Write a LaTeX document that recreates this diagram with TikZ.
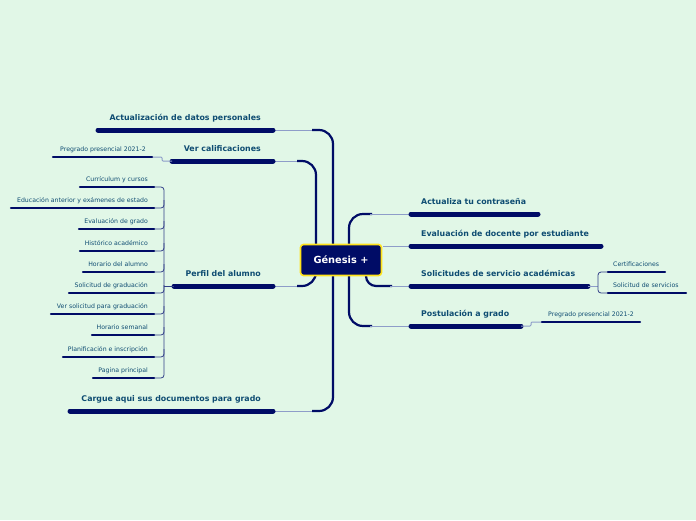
\documentclass[tikz,border=0pt]{standalone}
\usepackage{fontspec}
\setmainfont{DejaVu Sans}
\definecolor{navy}{HTML}{000C66}
\definecolor{paper}{HTML}{E1F7E7}
\definecolor{ink}{HTML}{0E4C72}
\definecolor{linkcol}{HTML}{8E9DC9}
\definecolor{gold}{HTML}{FFE21A}
\begin{document}
\begin{tikzpicture}[x=1pt,y=-1pt]
        \tikzstyle{root}=[fill=navy,draw=gold,line width=1.6pt,rounded corners=3pt,minimum width=81pt,minimum height=31pt,text=white,font=\fontsize{9.8}{11}\selectfont\bfseries]
        \tikzstyle{topic}=[inner sep=0pt,text=ink,font=\fontsize{7.85}{9}\selectfont\bfseries]
        \tikzstyle{subtopic}=[inner sep=0pt,text=ink,font=\fontsize{6.2}{7}\selectfont]
        \tikzstyle{bar}=[draw=navy,line width=5pt,line cap=round]
        \tikzstyle{subbar}=[draw=navy,line width=2.4pt,line cap=round]
        \tikzstyle{trunk}=[draw=navy,line width=2.2pt,rounded corners=14pt]
        \tikzstyle{link}=[draw=linkcol,line width=1pt]
        \tikzstyle{twig}=[draw=navy!65!linkcol,line width=0.8pt,rounded corners=3pt]
        \fill[paper] (0,0) rectangle (696,520);
        % left main topics
        \begin{scope}
         \coordinate (datosR) at (273,130);
         \coordinate (notasR) at (273,161);
         \coordinate (perfilR) at (273,286);
         \coordinate (cargueR) at (273,411);
         \draw[link] (datosR) -- (313,130);
         \draw[trunk] (312,130) -| (333,262);
         \draw[link] (notasR) -- (298,161);
         \draw[trunk] (297,161) -| (316,256);
         \draw[link] (perfilR) -- (298,286);
         \draw[trunk] (297,286) -| (316,268);
         \draw[link] (cargueR) -- (313,411);
         \draw[trunk] (312,411) -| (333,262);
         \draw[bar] (98,130) -- (datosR);
         \draw[bar] (172,161) -- (notasR);
         \draw[bar] (174,286) -- (perfilR);
         \draw[bar] (70,411) -- (cargueR);
         \node[topic,anchor=base east] (datos) at (261,120) {Actualización de datos personales};
         \node[topic,anchor=base east] (notas) at (261,151) {Ver calificaciones};
         \node[topic,anchor=base east] (perfil) at (261,276) {Perfil del alumno};
         \node[topic,anchor=base east] (cargue) at (261,401) {Cargue aqui sus documentos para grado};
        \end{scope}
        % right main topics
        \begin{scope}
         \coordinate (claveL) at (411,214);
         \coordinate (docenteL) at (411,246);
         \coordinate (solicL) at (411,286);
         \coordinate (postL) at (411,326);
         \draw[trunk] (349,258) |- (372,214);
         \draw[link] (370,214) -- (claveL);
         \draw[link] (383,246) -- (docenteL);
         \draw[trunk,rounded corners=10pt] (366,268) |- (392,286);
         \draw[link] (390,286) -- (solicL);
         \draw[trunk] (349,262) |- (372,326);
         \draw[link] (370,326) -- (postL);
         \draw[bar] (claveL) -- (538,214);
         \draw[bar] (docenteL) -- (601,246);
         \draw[bar] (solicL) -- (588,286);
         \draw[bar] (postL) -- (521,326);
         \node[topic,anchor=base west] (clave) at (421,204) {Actualiza tu contraseña};
         \node[topic,anchor=base west] (docente) at (421,236) {Evaluación de docente por estudiante};
         \node[topic,anchor=base west] (solic) at (421,276) {Solicitudes de servicio académicas};
         \node[topic,anchor=base west] (post) at (421,316) {Postulación a grado};
        \end{scope}
        \node[root] (root) at (341,260) {Génesis +};
        % sub topics, right
        \begin{scope}
         \draw[link] (588,286) -- (598,286);
         \draw[twig] (608,272) -- (598,272) -- (598,293) -- (608,293);
         \draw[subbar] (608,272) -- (665,272);
         \draw[subbar] (608,293) -- (686,293);
         \node[subtopic,anchor=base west] (cert) at (613,266.5) {Certificaciones};
         \node[subtopic,anchor=base west] (servicios) at (613,287.5) {Solicitud de servicios};
         \draw[link,rounded corners=1pt] (521,326) -- (531,326) -- (531,322) -- (542,322);
         \draw[subbar] (542,322) -- (640,322);
         \node[subtopic,anchor=base west] (pregradoA) at (548,316.5) {Pregrado presencial 2021-2};
        \end{scope}
        % sub topics, left
        \begin{scope}
         \draw[link,rounded corners=1pt] (172,161) -- (162,161) -- (162,157) -- (152,157);
         \draw[subbar] (53,157) -- (152,157);
         \node[subtopic,anchor=base east] (pregradoB) at (146,151.5) {Pregrado presencial 2021-2};
         \draw[twig] (174,286) -- (164,286);
         \draw[twig] (154,187) -- (164,187) -- (164,378) -- (154,378);
         \draw[twig] (164,200) |- (154,208);
         \draw[twig] (164,221) |- (154,229);
         \draw[twig] (164,243) |- (154,251);
         \draw[twig] (164,264) |- (154,272);
         \draw[twig] (164,285) |- (154,293);
         \draw[twig] (164,306) |- (154,314);
         \draw[twig] (164,327) |- (154,335);
         \draw[twig] (164,349) |- (154,357);
         \draw[subbar] (80,187) -- (154,187);
         \draw[subbar] (11,208) -- (154,208);
         \draw[subbar] (79,229) -- (154,229);
         \draw[subbar] (80,251) -- (154,251);
         \draw[subbar] (83,272) -- (154,272);
         \draw[subbar] (69,293) -- (154,293);
         \draw[subbar] (51,314) -- (154,314);
         \draw[subbar] (92,335) -- (154,335);
         \draw[subbar] (63,357) -- (154,357);
         \draw[subbar] (93,378) -- (154,378);
         \node[subtopic,anchor=base east] (p1) at (148,181.5) {Currículum y cursos};
         \node[subtopic,anchor=base east] (p2) at (148,202.5) {Educación anterior y exámenes de estado};
         \node[subtopic,anchor=base east] (p3) at (148,223.5) {Evaluación de grado};
         \node[subtopic,anchor=base east] (p4) at (148,245.5) {Histórico académico};
         \node[subtopic,anchor=base east] (p5) at (148,266.5) {Horario del alumno};
         \node[subtopic,anchor=base east] (p6) at (148,287.5) {Solicitud de graduación};
         \node[subtopic,anchor=base east] (p7) at (148,308.5) {Ver solicitud para graduación};
         \node[subtopic,anchor=base east] (p8) at (148,329.5) {Horario semanal};
         \node[subtopic,anchor=base east] (p9) at (148,351.5) {Planificación e inscripción};
         \node[subtopic,anchor=base east] (p10) at (148,372.5) {Pagina principal};
        \end{scope}
\end{tikzpicture}
\end{document}
